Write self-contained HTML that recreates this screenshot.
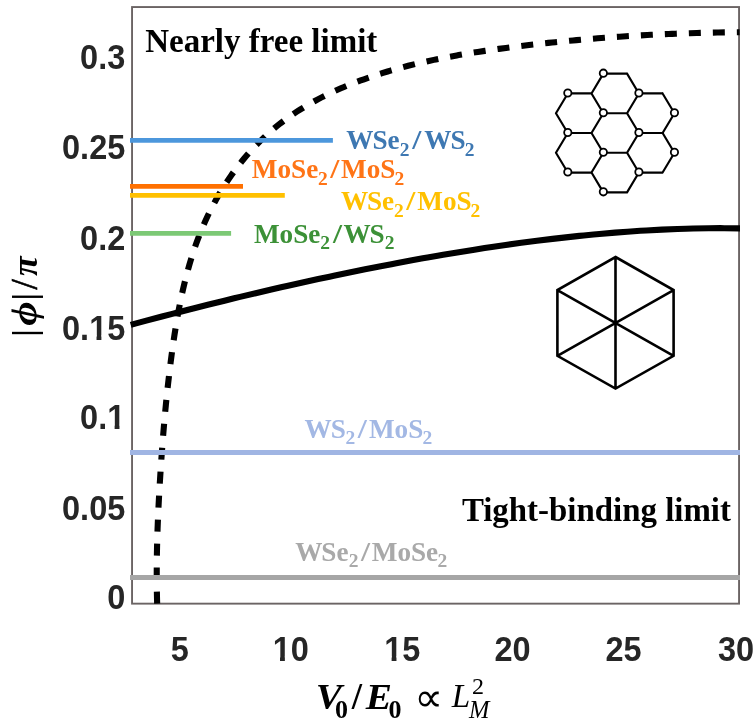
<!DOCTYPE html>
<html lang="en">
<head>
<meta charset="utf-8">
<title>Phase vs potential depth</title>
<style>
html,body{margin:0;padding:0;background:#fff;}
svg{display:block;}
text{white-space:pre;}
</style>
</head>
<body>
<svg width="756" height="720" viewBox="0 0 756 720">
<rect width="756" height="720" fill="#fff"/>
<rect x="132.05" y="7.05" width="607" height="596.6" fill="none" stroke="#6b6464" stroke-width="1.9"/>
<path d="M157.15 603.59 C157.09 601.22 157.02 598.86 156.97 596.49 C156.92 594.12 156.88 591.76 156.84 589.39 C156.81 587.02 156.78 584.66 156.76 582.29 C156.74 579.92 156.74 577.55 156.73 575.19 C156.73 572.82 156.74 570.45 156.75 568.08 C156.76 565.72 156.78 563.35 156.81 560.98 C156.83 558.62 156.87 556.25 156.91 553.88 C156.95 551.51 157.00 549.15 157.05 546.78 C157.10 544.41 157.16 542.05 157.23 539.68 C157.29 537.32 157.37 534.95 157.45 532.58 C157.52 530.22 157.61 527.85 157.70 525.49 C157.78 523.12 157.88 520.75 157.98 518.39 C158.08 516.02 158.18 513.66 158.29 511.29 C158.40 508.93 158.52 506.56 158.64 504.20 C158.76 501.84 158.88 499.47 159.01 497.11 C159.13 494.74 159.27 492.38 159.40 490.02 C159.54 487.65 159.68 485.29 159.82 482.93 C159.96 480.56 160.11 478.20 160.26 475.84 C160.41 473.48 160.56 471.11 160.72 468.75 C160.87 466.39 161.03 464.03 161.19 461.67 C161.36 459.30 161.52 456.94 161.69 454.58 C161.86 452.22 162.03 449.86 162.21 447.50 C162.39 445.14 162.57 442.78 162.75 440.42 C162.93 438.06 163.12 435.70 163.32 433.34 C163.51 430.98 163.71 428.62 163.91 426.26 C164.11 423.90 164.31 421.54 164.53 419.19 C164.74 416.83 164.95 414.47 165.17 412.11 C165.39 409.76 165.62 407.40 165.85 405.04 C166.08 402.69 166.31 400.33 166.56 397.98 C166.80 395.62 167.04 393.27 167.29 390.91 C167.55 388.56 167.80 386.21 168.07 383.85 C168.33 381.50 168.60 379.15 168.88 376.80 C169.15 374.45 169.43 372.10 169.72 369.75 C170.01 367.40 170.30 365.05 170.60 362.70 C170.90 360.35 171.21 358.00 171.52 355.66 C171.83 353.31 172.15 350.96 172.48 348.62 C172.81 346.28 173.14 343.93 173.48 341.59 C173.83 339.25 174.18 336.91 174.54 334.57 C174.90 332.23 175.27 329.89 175.65 327.55 C176.03 325.21 176.42 322.88 176.82 320.55 C177.22 318.21 177.64 315.88 178.06 313.55 C178.49 311.23 178.93 308.90 179.38 306.58 C179.84 304.25 180.30 301.93 180.79 299.61 C181.27 297.30 181.77 294.98 182.28 292.67 C182.79 290.36 183.32 288.05 183.87 285.75 C184.41 283.45 184.98 281.15 185.56 278.85 C186.14 276.56 186.74 274.27 187.36 271.98 C187.98 269.70 188.62 267.42 189.28 265.14 C189.93 262.87 190.61 260.60 191.31 258.34 C192.02 256.08 192.74 253.82 193.48 251.58 C194.23 249.33 195.00 247.09 195.79 244.86 C196.58 242.63 197.39 240.41 198.23 238.19 C199.07 235.98 199.94 233.77 200.83 231.58 C201.72 229.39 202.63 227.20 203.57 225.03 C204.51 222.86 205.48 220.70 206.48 218.55 C207.47 216.40 208.49 214.27 209.54 212.14 C210.58 210.02 211.66 207.91 212.75 205.81 C213.85 203.71 214.98 201.63 216.13 199.56 C217.28 197.49 218.46 195.44 219.66 193.40 C220.87 191.36 222.09 189.34 223.35 187.33 C224.61 185.33 225.89 183.33 227.19 181.36 C228.50 179.39 229.84 177.43 231.20 175.49 C232.55 173.56 233.94 171.64 235.35 169.74 C236.76 167.84 238.20 165.95 239.66 164.09 C241.13 162.23 242.62 160.39 244.13 158.57 C245.65 156.75 247.19 154.95 248.75 153.18 C250.32 151.40 251.91 149.65 253.53 147.92 C255.14 146.19 256.79 144.49 258.46 142.81 C260.12 141.13 261.82 139.48 263.54 137.85 C265.25 136.22 267.00 134.62 268.77 133.04 C270.53 131.47 272.33 129.92 274.15 128.41 C275.96 126.89 277.80 125.40 279.67 123.94 C281.53 122.48 283.42 121.05 285.33 119.65 C287.24 118.25 289.17 116.88 291.11 115.53 C293.06 114.19 295.03 112.87 297.01 111.58 C299.00 110.29 301.00 109.03 303.02 107.80 C305.04 106.56 307.08 105.35 309.13 104.17 C311.18 102.99 313.25 101.84 315.33 100.71 C317.41 99.57 319.50 98.47 321.61 97.39 C323.71 96.31 325.83 95.25 327.96 94.22 C330.09 93.19 332.24 92.18 334.39 91.19 C336.54 90.21 338.70 89.25 340.88 88.30 C343.05 87.36 345.23 86.45 347.42 85.55 C349.61 84.65 351.81 83.77 354.02 82.92 C356.22 82.06 358.44 81.22 360.66 80.41 C362.88 79.59 365.11 78.79 367.35 78.01 C369.58 77.23 371.82 76.47 374.07 75.73 C376.32 74.99 378.57 74.26 380.83 73.55 C383.09 72.84 385.36 72.15 387.62 71.48 C389.89 70.80 392.17 70.14 394.45 69.50 C396.72 68.86 399.01 68.23 401.29 67.61 C403.58 67.00 405.87 66.40 408.16 65.82 C410.46 65.23 412.76 64.66 415.06 64.11 C417.36 63.55 419.66 63.01 421.97 62.48 C424.28 61.95 426.59 61.43 428.90 60.93 C431.21 60.43 433.53 59.93 435.85 59.45 C438.16 58.97 440.49 58.51 442.81 58.05 C445.13 57.59 447.46 57.15 449.78 56.71 C452.11 56.28 454.44 55.85 456.77 55.44 C459.10 55.02 461.43 54.62 463.77 54.22 C466.10 53.83 468.44 53.44 470.77 53.06 C473.11 52.68 475.45 52.32 477.79 51.95 C480.13 51.59 482.47 51.24 484.81 50.89 C487.15 50.55 489.50 50.21 491.84 49.87 C494.18 49.54 496.53 49.21 498.87 48.89 C501.22 48.57 503.57 48.26 505.91 47.95 C508.26 47.64 510.61 47.34 512.96 47.04 C515.30 46.74 517.65 46.44 520.00 46.15 C522.35 45.86 524.70 45.58 527.05 45.30 C529.40 45.02 531.75 44.74 534.11 44.47 C536.46 44.20 538.81 43.93 541.16 43.67 C543.52 43.41 545.87 43.15 548.22 42.90 C550.58 42.65 552.93 42.40 555.29 42.16 C557.64 41.92 560.00 41.68 562.35 41.45 C564.71 41.21 567.06 40.98 569.42 40.76 C571.78 40.54 574.13 40.32 576.49 40.10 C578.85 39.89 581.21 39.68 583.57 39.47 C585.92 39.26 588.28 39.06 590.64 38.87 C593.00 38.67 595.36 38.48 597.72 38.29 C600.08 38.10 602.44 37.92 604.80 37.74 C607.16 37.56 609.52 37.39 611.88 37.22 C614.25 37.05 616.61 36.88 618.97 36.72 C621.33 36.56 623.69 36.41 626.06 36.25 C628.42 36.10 630.78 35.96 633.14 35.81 C635.51 35.67 637.87 35.53 640.23 35.40 C642.60 35.26 644.96 35.13 647.32 35.00 C649.69 34.88 652.05 34.76 654.42 34.64 C656.78 34.52 659.15 34.41 661.51 34.30 C663.88 34.19 666.24 34.09 668.61 33.99 C670.97 33.88 673.34 33.79 675.70 33.70 C678.07 33.60 680.43 33.52 682.80 33.43 C685.16 33.35 687.53 33.27 689.90 33.19 C692.26 33.12 694.63 33.04 697.00 32.98 C699.36 32.91 701.73 32.84 704.09 32.78 C706.46 32.72 708.83 32.67 711.19 32.62 C713.56 32.56 715.93 32.52 718.30 32.47 C720.66 32.43 723.03 32.39 725.40 32.35 C727.76 32.32 730.13 32.28 732.50 32.25 C734.86 32.23 737.23 32.20 739.60 32.18" fill="none" stroke="#000" stroke-width="6.1" stroke-dasharray="12 12.01"/>
<path d="M130.70 324.86 C135.91 323.46 141.12 322.04 146.32 320.65 C151.53 319.26 156.74 317.88 161.95 316.51 C167.15 315.15 172.36 313.79 177.57 312.45 C182.78 311.11 187.98 309.77 193.19 308.46 C198.40 307.14 203.61 305.83 208.82 304.53 C214.02 303.24 219.23 301.95 224.44 300.68 C229.65 299.41 234.85 298.15 240.06 296.90 C245.27 295.65 250.48 294.41 255.68 293.19 C260.89 291.96 266.10 290.75 271.31 289.55 C276.52 288.35 281.72 287.16 286.93 285.99 C292.14 284.81 297.35 283.65 302.55 282.50 C307.76 281.35 312.97 280.21 318.18 279.09 C323.38 277.96 328.59 276.85 333.80 275.75 C339.01 274.65 344.22 273.57 349.42 272.50 C354.63 271.43 359.84 270.37 365.05 269.32 C370.25 268.28 375.46 267.25 380.67 266.24 C385.88 265.22 391.08 264.22 396.29 263.24 C401.50 262.25 406.71 261.28 411.92 260.33 C417.12 259.38 422.33 258.44 427.54 257.52 C432.75 256.59 437.95 255.69 443.16 254.80 C448.37 253.91 453.58 253.04 458.78 252.19 C463.99 251.33 469.20 250.49 474.41 249.68 C479.62 248.86 484.82 248.06 490.03 247.28 C495.24 246.50 500.45 245.73 505.65 244.99 C510.86 244.25 516.07 243.53 521.28 242.83 C526.48 242.13 531.69 241.44 536.90 240.79 C542.11 240.13 547.32 239.49 552.52 238.87 C557.73 238.26 562.94 237.67 568.15 237.10 C573.35 236.53 578.56 235.98 583.77 235.46 C588.98 234.94 594.18 234.44 599.39 233.97 C604.60 233.50 609.81 233.06 615.02 232.64 C620.22 232.22 625.43 231.83 630.64 231.47 C635.85 231.10 641.05 230.76 646.26 230.46 C651.47 230.15 656.68 229.87 661.88 229.62 C667.09 229.38 672.30 229.16 677.51 228.97 C682.72 228.79 687.92 228.63 693.13 228.51 C698.34 228.39 703.55 228.30 708.75 228.24 C713.96 228.19 719.17 228.16 724.38 228.18 C729.58 228.19 734.79 228.28 740.00 228.33" fill="none" stroke="#000" stroke-width="6.1"/>
<g fill="none" stroke-width="4.8">
<path d="M130 140.4H332.9" stroke="#4c97dc"/>
<path d="M130 186.4H243" stroke="#ff7000"/>
<path d="M130 195.45H284.8" stroke="#ffc000"/>
<path d="M130 233.3H231.1" stroke="#7cc975"/>
<path d="M130 452.5H740" stroke="#a0b5e3"/>
<path d="M130 577.5H740" stroke="#a6a6a6"/>
</g>
<path d="M555.95 113.22 L567.80 93.44M555.95 113.22 L567.80 133.00M555.95 152.78 L567.80 133.00M555.95 152.78 L567.80 172.56M567.80 93.44 L591.50 93.44M567.80 133.00 L591.50 133.00M567.80 172.56 L591.50 172.56M591.50 93.44 L603.35 73.66M591.50 93.44 L603.35 113.22M591.50 133.00 L603.35 113.22M591.50 133.00 L603.35 152.78M591.50 172.56 L603.35 152.78M591.50 172.56 L603.35 192.34M603.35 73.66 L627.05 73.66M603.35 113.22 L627.05 113.22M603.35 152.78 L627.05 152.78M603.35 192.34 L627.05 192.34M627.05 73.66 L638.90 93.44M627.05 113.22 L638.90 93.44M627.05 113.22 L638.90 133.00M627.05 152.78 L638.90 133.00M627.05 152.78 L638.90 172.56M627.05 192.34 L638.90 172.56M638.90 93.44 L662.60 93.44M638.90 133.00 L662.60 133.00M638.90 172.56 L662.60 172.56M662.60 93.44 L674.45 113.22M662.60 133.00 L674.45 113.22M662.60 133.00 L674.45 152.78M662.60 172.56 L674.45 152.78" fill="none" stroke="#000" stroke-width="2.15" stroke-linecap="round"/>
<g fill="#fff" stroke="#000" stroke-width="1.8"><circle cx="603.35" cy="73.16" r="3.65"/><circle cx="567.80" cy="92.94" r="3.65"/><circle cx="638.90" cy="92.94" r="3.65"/><circle cx="674.45" cy="112.72" r="3.65"/><circle cx="603.35" cy="112.72" r="3.65"/><circle cx="567.80" cy="132.50" r="3.65"/><circle cx="638.90" cy="132.50" r="3.65"/><circle cx="674.45" cy="152.28" r="3.65"/><circle cx="603.35" cy="152.28" r="3.65"/><circle cx="567.80" cy="172.06" r="3.65"/><circle cx="638.90" cy="172.06" r="3.65"/><circle cx="603.35" cy="191.84" r="3.65"/></g>
<path d="M615.5 257.0 L673.6 290.1 L673.6 355.8 L615.5 388.6 L557.4 355.8 L557.4 290.1 Z M615.5 257.0 L615.5 388.6 M673.6 290.1 L557.4 355.8 M673.6 355.8 L557.4 290.1" fill="none" stroke="#000" stroke-width="2.6" stroke-linejoin="miter"/>
<g font-family="'Liberation Serif','DejaVu Serif',serif" font-weight="bold">
<text x="145.2" y="51.6" font-size="33">Nearly free limit</text>
<text x="461.9" y="521.3" font-size="32.9">Tight-binding limit</text>
<text y="149.1" font-size="27.2" fill="#3e78b2"><tspan x="346.31">W</tspan><tspan dx="-1.1">Se</tspan><tspan x="399.78" dy="6.4" font-size="19.5">2</tspan><tspan x="424.31" dy="-6.4">W</tspan><tspan dx="-1.1">S</tspan><tspan x="464.68" dy="6.4" font-size="19.5">2</tspan></text><text transform="translate(412.35 149.1) scale(1.2 1.02)" font-size="27.2" fill="#3e78b2">/</text>
<text y="178.4" font-size="27.2" fill="#ff7416"><tspan x="251.84">MoSe</tspan><tspan x="317.88" dy="6.4" font-size="19.5">2</tspan><tspan x="341.04" dy="-6.4">MoS</tspan><tspan x="394.48" dy="6.4" font-size="19.5">2</tspan></text><text transform="translate(330.15 178.4) scale(1.2 1.02)" font-size="27.2" fill="#ff7416">/</text>
<text y="210.4" font-size="27.2" fill="#ffc000"><tspan x="340.91">W</tspan><tspan dx="-1.1">Se</tspan><tspan x="394.08" dy="6.4" font-size="19.5">2</tspan><tspan x="417.34" dy="-6.4">MoS</tspan><tspan x="470.58" dy="6.4" font-size="19.5">2</tspan></text><text transform="translate(406.25 210.4) scale(1.2 1.02)" font-size="27.2" fill="#ffc000">/</text>
<text y="242.6" font-size="27.2" fill="#3c9137"><tspan x="253.94">MoSe</tspan><tspan x="320.28" dy="6.4" font-size="19.5">2</tspan><tspan x="343.41" dy="-6.4">W</tspan><tspan dx="-1.1">S</tspan><tspan x="384.78" dy="6.4" font-size="19.5">2</tspan></text><text transform="translate(333.05 242.6) scale(1.2 1.02)" font-size="27.2" fill="#3c9137">/</text>
<text y="437.5" font-size="27.2" fill="#a3b8e4"><tspan x="304.61">W</tspan><tspan dx="-1.1">S</tspan><tspan x="345.48" dy="6.4" font-size="19.5">2</tspan><tspan x="368.94" dy="-6.4">MoS</tspan><tspan x="422.58" dy="6.4" font-size="19.5">2</tspan></text><text transform="translate(357.85 437.5) scale(1.2 1.02)" font-size="27.2" fill="#a3b8e4">/</text>
<text y="561.0" font-size="27.2" fill="#a9a9a9"><tspan x="295.21">W</tspan><tspan dx="-1.1">Se</tspan><tspan x="348.68" dy="6.4" font-size="19.5">2</tspan><tspan x="371.74" dy="-6.4">MoSe</tspan><tspan x="437.48" dy="6.4" font-size="19.5">2</tspan></text><text transform="translate(360.95 561.0) scale(1.2 1.02)" font-size="27.2" fill="#a9a9a9">/</text>
</g>
<defs><filter id="soft" x="-5%" y="-5%" width="110%" height="110%"><feGaussianBlur stdDeviation="0.6"/></filter></defs>
<g font-family="'Liberation Sans','DejaVu Sans',sans-serif" font-weight="bold" font-size="32.5" fill="#262626" filter="url(#soft)">
<text transform="translate(80.12 68.5) scale(1 1.085)">0.3</text>
<text transform="translate(62.05 158.8) scale(1 1.085)">0.25</text>
<text transform="translate(80.12 249.5) scale(1 1.085)">0.2</text>
<text transform="translate(62.05 340.0) scale(1 1.085)">0.15</text>
<text transform="translate(80.12 429.4) scale(1 1.085)">0.1</text>
<text transform="translate(62.05 520.0) scale(1 1.085)">0.05</text>
<text transform="translate(107.23 608.8) scale(1 1.085)">0</text>
<text transform="translate(170.86 660.9) scale(1 1.085)">5</text>
<text transform="translate(272.63 660.9) scale(1 1.085)">10</text>
<text transform="translate(384.23 660.9) scale(1 1.085)">15</text>
<text transform="translate(494.43 660.9) scale(1 1.085)">20</text>
<text transform="translate(605.43 660.9) scale(1 1.085)">25</text>
<text transform="translate(717.93 660.9) scale(1 1.085)">30</text>
</g>
<g fill="#fff"><rect x="90.40" y="335.40" width="6.14" height="5.60"/><rect x="101.39" y="335.40" width="5.93" height="5.60"/><rect x="108.47" y="424.80" width="6.14" height="5.60"/><rect x="119.47" y="424.80" width="5.93" height="5.60"/><rect x="273.87" y="656.30" width="6.14" height="5.60"/><rect x="284.87" y="656.30" width="5.93" height="5.60"/><rect x="385.47" y="656.30" width="6.14" height="5.60"/><rect x="396.47" y="656.30" width="5.93" height="5.60"/></g>
<g font-family="'Liberation Serif','DejaVu Serif',serif">
<text transform="translate(315.7 709) scale(1.09 1)" font-size="36" font-weight="bold" font-style="italic">V</text>
<text transform="translate(365.8 709) scale(1.09 1)" font-size="36" font-weight="bold" font-style="italic">E</text>
<text x="351.7" y="709" font-size="37" font-weight="bold">/</text>
<text y="718.3" font-size="26" font-weight="bold"><tspan x="335.1">0</tspan><tspan x="388.6">0</tspan></text>
<text x="451.8" y="706.6" font-size="33.2" font-style="italic">L</text>
<text x="468.9" y="717.5" font-size="24.5" font-style="italic">M</text>
<text x="472.1" y="693.7" font-size="24">2</text>
</g>
<text x="414.5" y="711.2" font-family="'DejaVu Sans',sans-serif" font-size="40">&#8733;</text>
<g font-family="'Liberation Serif','DejaVu Serif',serif">
<text transform="translate(35.6 336.7) rotate(-90)" font-size="34.1" font-weight="bold">|</text>
<text transform="translate(36.4 325.8) rotate(-90) scale(1.17 1)" font-size="36" font-weight="bold" font-style="italic">&#981;</text>
<text transform="translate(35.6 300.6) rotate(-90)" font-size="34.1" font-weight="bold">|</text>
<text transform="translate(36.9 289.6) rotate(-90)" font-size="37.5" stroke="#000" stroke-width="0.6">/</text>
<text transform="translate(36.8 276.0) rotate(-90)" font-size="36" font-weight="bold" font-style="italic">&#960;</text>
</g>
</svg>
</body>
</html>
